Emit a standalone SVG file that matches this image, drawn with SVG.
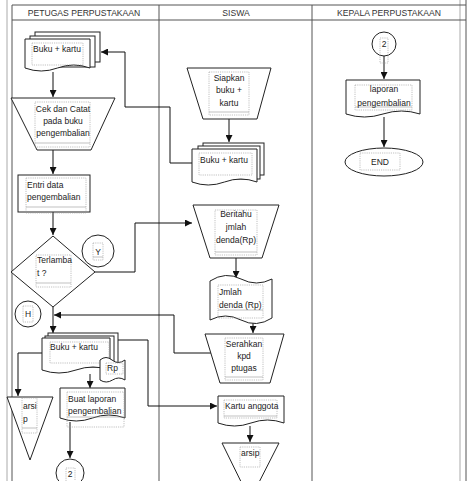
<svg xmlns="http://www.w3.org/2000/svg" width="474" height="481" viewBox="0 0 474 481">
<defs>
<marker id="ah" viewBox="0 0 10 10" refX="10" refY="5" markerWidth="7" markerHeight="7" markerUnits="userSpaceOnUse" orient="auto"><path d="M0,0 L10,5 L0,10 Z" fill="#111"/></marker>
</defs>
<style>
.sh{fill:#fff;stroke:#222;stroke-width:1}
.tb{fill:none;stroke:#999;stroke-width:0.6;stroke-dasharray:1.2 1}
.tl{stroke:#999;stroke-width:0.6}
.cn{fill:none;stroke:#111;stroke-width:1;marker-end:url(#ah)}
.grid{stroke:#555;stroke-width:1;fill:none}
.grid2{stroke:#aaa;stroke-width:1;fill:none}
text{font-family:"Liberation Sans",Arial,sans-serif;font-size:8.5px;fill:#222}
.hd{font-size:8.6px;fill:#333;text-anchor:middle}
.c{text-anchor:middle}
</style>
<rect width="474" height="481" fill="#fff"/>
<g id="table">
<line class="grid2" x1="7" y1="0" x2="7" y2="481"/>
<line class="grid2" x1="460" y1="0" x2="460" y2="481"/>
<line class="grid" x1="466" y1="0" x2="466" y2="481" stroke-width="1.5"/>
<line class="grid" x1="12" y1="5" x2="466" y2="5"/>
<line class="grid" x1="12" y1="20" x2="466" y2="20"/>
<line class="grid" x1="12" y1="5" x2="12" y2="481"/>
<line class="grid" x1="159" y1="5" x2="159" y2="481"/>
<line class="grid" x1="312" y1="5" x2="312" y2="481"/>
<text class="hd" x="84" y="16">PETUGAS PERPUSTAKAAN</text>
<text class="hd" x="236" y="16">SISWA</text>
<text class="hd" x="389" y="16">KEPALA PERPUSTAKAAN</text>
</g>
<g id="connectors">
<path class="cn" d="M53,72 V97"/>
<path class="cn" d="M53,150 V174"/>
<path class="cn" d="M53,212 V235"/>
<path class="cn" d="M95,272 H135 V223 H192"/>
<path class="cn" d="M53,307 V333"/>
<path class="cn" d="M211,353 H174 V315 H54"/>
<path class="cn" d="M192,163 H170 V107 H125 V52 H101"/>
<path class="cn" d="M229,119 V142"/>
<path class="cn" d="M236,258 V278"/>
<path class="cn" d="M253,320 V333"/>
<path class="cn" d="M118,340 H148 V406 H217"/>
<path class="cn" d="M42,353 H18 V396"/>
<path class="cn" d="M90,374 V388"/>
<path class="cn" d="M70,422 V458"/>
<path class="cn" d="M250,426 V442"/>
<path class="cn" d="M384,56 V79"/>
<path class="cn" d="M384,117 V147"/>
</g>
<g id="n-buku-kartu-1">
<rect class="sh" x="35" y="32" width="65" height="30"/>
<rect class="sh" x="30" y="36" width="65" height="31"/>
<path class="sh" d="M25,39 H90 V68 Q73.75,62 57.5,68 T25,68 Z"/>
<rect class="tb" x="32" y="43" width="51" height="22"/>
<text x="33" y="52">Buku + kartu</text>
</g>
<g id="n-cek">
<polygon class="sh" points="11,98 115,98 91,150 37,150"/>
<rect class="tb" x="35" y="102" width="55" height="45"/>
<line class="tl" x1="35" y1="143" x2="90" y2="143"/>
<text class="c" x="63" y="112">Cek dan Catat</text>
<text class="c" x="63" y="124">pada buku</text>
<text class="c" x="63" y="136">pengembalian</text>
</g>
<g id="n-entri">
<rect class="sh" x="18" y="175" width="72" height="37"/>
<rect class="tb" x="26" y="178" width="60" height="35"/>
<line class="tl" x1="26" y1="207" x2="86" y2="207"/>
<text x="27" y="188">Entri data</text>
<text x="27" y="200">pengembalian</text>
</g>
<g id="n-terlambat">
<polygon class="sh" points="53,236 95,272 53,307 11,272"/>
<rect class="tb" x="36" y="255" width="35" height="32"/>
<line class="tl" x1="36" y1="283" x2="71" y2="283"/>
<text x="37" y="263">Terlamba</text>
<text x="37" y="276">t ?</text>
</g>
<g id="n-y">
<circle class="sh" cx="98" cy="251" r="16"/>
<rect class="tb" x="93" y="243" width="10" height="17"/>
<line class="tl" x1="93" y1="257" x2="103" y2="257"/>
<text class="c" x="98" y="255">Y</text>
</g>
<g id="n-h">
<circle class="sh" cx="28" cy="314" r="13"/>
<rect class="tb" x="23" y="306" width="10" height="16"/>
<text class="c" x="28" y="317">H</text>
</g>
<g id="n-buku-kartu-2">
<rect class="sh" x="48" y="333" width="70" height="30"/>
<rect class="sh" x="45" y="336" width="69" height="31"/>
<path class="sh" d="M42,338 H110 V370 Q93,364 76,370 T42,370 Z"/>
<rect class="tb" x="50" y="342" width="59" height="21"/>
<text x="50" y="350">Buku + kartu</text>
</g>
<g id="n-rp">
<path class="sh" d="M100,360 Q106,355 112,360 T125,360 V380 Q118.75,376 112.5,380 T100,380 Z"/>
<rect class="tb" x="106" y="363" width="17" height="11"/>
<text x="107" y="371">Rp</text>
</g>
<g id="n-arsip-1">
<polygon class="sh" points="7,397 53,397 30,460"/>
<rect class="tb" x="22" y="398" width="15" height="35"/>
<line class="tl" x1="22" y1="428" x2="37" y2="428"/>
<text x="23" y="409">arsi</text>
<text x="23" y="422">p</text>
</g>
<g id="n-buat-laporan">
<path class="sh" d="M60,388 H125 V418 Q108.75,412 92.5,418 T60,418 Z"/>
<rect class="tb" x="67" y="392" width="57" height="35"/>
<line class="tl" x1="67" y1="417" x2="124" y2="417"/>
<text x="68" y="402">Buat laporan</text>
<text x="68" y="414">pengembalian</text>
</g>
<g id="n-2-out">
<circle class="sh" cx="70" cy="473" r="14"/>
<rect class="tb" x="66" y="468" width="9" height="14"/>
<text class="c" x="70" y="477">2</text>
</g>
<g id="n-siapkan">
<polygon class="sh" points="187,68 271,68 257,119 203,119"/>
<rect class="tb" x="209" y="72" width="40" height="43"/>
<line class="tl" x1="209" y1="112" x2="249" y2="112"/>
<text class="c" x="229" y="81">Siapkan</text>
<text class="c" x="229" y="93">buku +</text>
<text class="c" x="229" y="106">kartu</text>
</g>
<g id="n-buku-kartu-siswa">
<rect class="sh" x="203" y="143" width="61" height="32"/>
<rect class="sh" x="198" y="146" width="62" height="33"/>
<path class="sh" d="M192,149 H257 V182 Q240.75,176 224.5,182 T192,182 Z"/>
<rect class="tb" x="199" y="153" width="53" height="22"/>
<text x="200" y="163">Buku + kartu</text>
</g>
<g id="n-beritahu">
<polygon class="sh" points="193,205 279,205 262,258 210,258"/>
<rect class="tb" x="215" y="210" width="42" height="45"/>
<line class="tl" x1="215" y1="252" x2="257" y2="252"/>
<text class="c" x="236" y="217">Beritahu</text>
<text class="c" x="236" y="230">jmlah</text>
<text class="c" x="236" y="243">denda(Rp)</text>
</g>
<g id="n-jmlah-denda">
<path class="sh" d="M210,281 Q225.5,271 241,279 T272,279 V318 Q256.5,328 241,320 T210,320 Z"/>
<rect class="tb" x="218" y="285" width="45" height="33"/>
<line class="tl" x1="218" y1="310" x2="263" y2="310"/>
<text x="219" y="295">Jmlah</text>
<text x="219" y="308">denda (Rp)</text>
</g>
<g id="n-serahkan">
<polygon class="sh" points="205,334 284,334 270,383 220,383"/>
<rect class="tb" x="225" y="338" width="38" height="42"/>
<line class="tl" x1="225" y1="377" x2="263" y2="377"/>
<text class="c" x="244" y="347">Serahkan</text>
<text class="c" x="244" y="359">kpd</text>
<text class="c" x="244" y="371">ptugas</text>
</g>
<g id="n-kartu-anggota">
<path class="sh" d="M218,396 H284 V423 Q267.5,417 251,423 T218,423 Z"/>
<rect class="tb" x="224" y="400" width="53" height="18"/>
<line class="tl" x1="224" y1="416" x2="277" y2="416"/>
<text x="225" y="409">Kartu anggota</text>
</g>
<g id="n-arsip-2">
<polygon class="sh" points="222,443 279,443 250,500"/>
<rect class="tb" x="240" y="447" width="20" height="20"/>
<text x="241" y="456">arsip</text>
</g>
<g id="n-2-in">
<circle class="sh" cx="384" cy="44" r="12"/>
<rect class="tb" x="380" y="38" width="8" height="25"/>
<text class="c" x="384" y="47">2</text>
</g>
<g id="n-laporan">
<path class="sh" d="M346,80 H420 V114 Q401.5,108 383,114 T346,114 Z"/>
<rect class="tb" x="355" y="85" width="57" height="25"/>
<line class="tl" x1="355" y1="107" x2="412" y2="107"/>
<text class="c" x="384" y="92">laporan</text>
<text class="c" x="384" y="106">pengembalian</text>
</g>
<g id="n-end">
<ellipse class="sh" cx="384" cy="162" rx="39" ry="14"/>
<rect class="tb" x="360" y="153" width="40" height="17"/>
<text class="c" x="380" y="165">END</text>
</g>
</svg>
